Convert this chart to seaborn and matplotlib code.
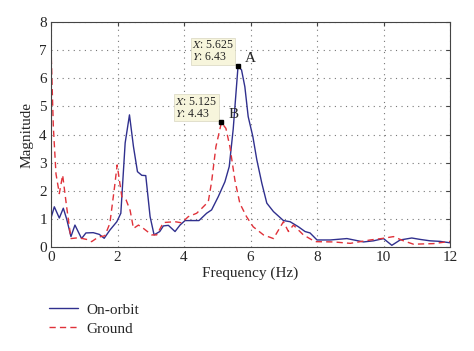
import pandas as pd
import seaborn as sns
import matplotlib.pyplot as plt

# on-orbit spectrum
orbit_freq = [0, 0.1, 0.25, 0.37, 0.47, 0.6, 0.72, 0.92, 1.05, 1.27, 1.45, 1.6, 1.77, 1.98,
              2.1, 2.23, 2.36, 2.48, 2.6, 2.73, 2.85, 2.98, 3.1, 3.27, 3.38, 3.53, 3.73, 3.88,
              4.03, 4.23, 4.45, 4.68, 4.83, 5.03, 5.23, 5.36, 5.48, 5.625, 5.73, 5.83, 5.93,
              6.07, 6.19, 6.34, 6.49, 6.69, 6.99, 7.19, 7.44, 7.64, 7.79, 8.0, 8.4, 8.9, 9.4,
              9.7, 10.0, 10.25, 10.5, 10.85, 11.1, 11.4, 11.7, 12.0]
orbit_mag = [1.03, 1.43, 1.03, 1.38, 1.0, 0.37, 0.78, 0.3, 0.5, 0.51, 0.45, 0.31, 0.6, 0.9,
             1.2, 3.7, 4.7, 3.57, 2.68, 2.55, 2.54, 1.08, 0.43, 0.55, 0.75, 0.77, 0.55, 0.78,
             0.94, 0.94, 0.94, 1.2, 1.32, 1.79, 2.32, 2.86, 4.2, 6.43, 6.3, 5.7, 4.64,
             3.93, 3.1, 2.27, 1.56, 1.26, 0.94, 0.9, 0.72, 0.55, 0.5, 0.25, 0.25, 0.3, 0.18,
             0.22, 0.3, 0.06, 0.25, 0.32, 0.27, 0.22, 0.2, 0.15]

# ground test spectrum
ground_freq = [0, 0.07, 0.15, 0.25, 0.35, 0.47, 0.6, 0.83, 1.07, 1.22, 1.42, 1.62, 1.77, 1.9,
               1.99, 2.13, 2.26, 2.38, 2.48, 2.63, 2.78, 3.03, 3.18, 3.38, 3.73, 3.93, 4.13,
               4.38, 4.53, 4.73, 4.83, 4.96, 5.125, 5.26, 5.38, 5.53, 5.68, 5.88, 6.08, 6.39,
               6.69, 6.99, 7.14, 7.29, 7.59, 7.94, 8.5, 9.0, 9.6, 10.0, 10.3, 10.6, 10.9,
               11.5, 12.0]
ground_mag = [7.1, 4.28, 2.6, 1.9, 2.56, 1.43, 0.3, 0.33, 0.27, 0.19, 0.35, 0.4, 0.84, 2.03,
              2.92, 1.79, 1.67, 1.3, 0.66, 0.78, 0.66, 0.43, 0.43, 0.87, 0.9, 0.86, 1.08,
              1.2, 1.37, 1.61, 2.32, 3.57, 4.43, 4.22, 3.57, 2.38, 1.55, 1.08, 0.72, 0.43,
              0.3, 0.9, 0.55, 0.78, 0.43, 0.19, 0.18, 0.13, 0.25, 0.31, 0.37, 0.22, 0.1,
              0.12, 0.2]

# datatips
tips = [('A', 5.625, 6.43), ('B', 5.125, 4.43)]

df = pd.concat([
    pd.DataFrame({'Frequency': orbit_freq, 'Magnitude': orbit_mag, 'Series': 'On-orbit'}),
    pd.DataFrame({'Frequency': ground_freq, 'Magnitude': ground_mag, 'Series': 'Ground'}),
])

sns.set_style('white')
plt.rcParams['font.family'] = ['Liberation Serif', 'DejaVu Serif']
plt.rcParams['mathtext.fontset'] = 'stix'

fig = plt.figure(figsize=(4.74, 3.51), dpi=100)
ax = fig.add_axes([0.1076, 0.2963, 0.8418, 0.6407])

sns.lineplot(data=df, x='Frequency', y='Magnitude', hue='Series', style='Series',
             palette={'On-orbit': '#30308e', 'Ground': '#e0323a'},
             dashes={'On-orbit': '', 'Ground': (4.5, 3)},
             linewidth=1.0, sort=False, ax=ax, legend=True)

ax.set_xlim(0, 12)
ax.set_ylim(0, 8)
ax.set_xticks(range(0, 13, 2))
ax.set_yticks(range(0, 9))
ax.set_xlabel('Frequency (Hz)', fontsize=11, labelpad=2)
ax.set_ylabel('Magnitude', fontsize=11, labelpad=4)
ax.tick_params(direction='in', top=True, right=True, labelsize=11, length=3, pad=3,
               color='#444444')
ax.grid(True, color='#777777', linestyle=(0, (1, 4)), linewidth=0.8)
for s in ax.spines.values():
    s.set_color('#444444')
    s.set_linewidth(0.8)

for name, fx, fy in tips:
    ax.plot(fx, fy, 's', color='black', markersize=3.5, zorder=5)
    ax.annotate('$\\mathit{X}$: %g\n$\\mathit{Y}$: %.2f' % (fx, fy), xy=(fx, fy),
                xytext=(-3, 2), textcoords='offset points', ha='right', va='bottom',
                multialignment='left', fontsize=8.5, linespacing=1.0,
                bbox=dict(boxstyle='square,pad=0.12', fc='#f7f5dc', ec='#d8d6c0', lw=0.5))
    ax.annotate(name, xy=(fx, fy), xytext=(5, 1), textcoords='offset points',
                ha='left', va='bottom', fontsize=11)

handles, labels = ax.get_legend_handles_labels()
ax.get_legend().remove()
fig.legend(handles, labels, loc='upper left', bbox_to_anchor=(0.074, 0.176),
           frameon=False, fontsize=11, handlelength=1.9, handletextpad=0.55,
           labelspacing=0.35)

fig.savefig('out.png', dpi=100)
